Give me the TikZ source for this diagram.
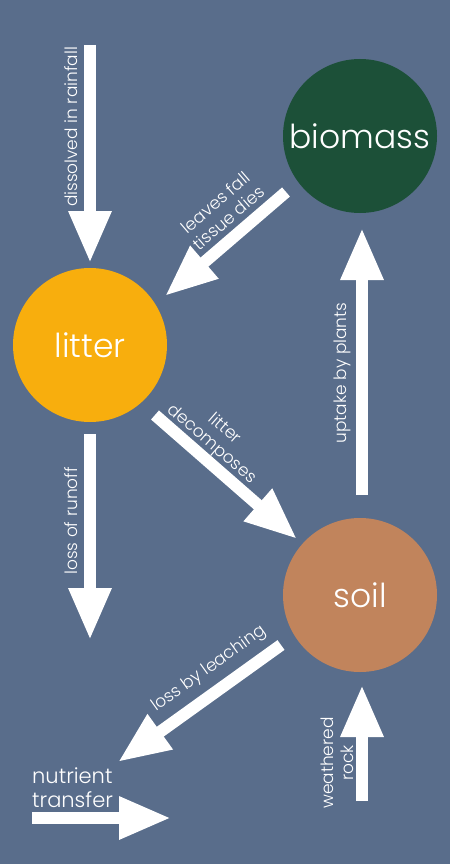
\documentclass[tikz,border=0pt]{standalone}
\usepackage{fontspec}
\setmainfont{Poppins Light}
\usetikzlibrary{arrows.meta}
\definecolor{bg}{HTML}{596D8B}
\definecolor{biomasscol}{HTML}{1C5038}
\definecolor{littercol}{HTML}{F8AE0D}
\definecolor{soilcol}{HTML}{C1845C}
\begin{document}
\begin{tikzpicture}[x=1pt,y=-1pt,
  pool/.style={circle,minimum size=154pt,inner sep=0pt,text=white,font=\fontsize{33}{33}\selectfont},
  flow/.style={draw=white,line width=12pt,-{Triangle[width=40pt,length=52pt]}},
  lbl/.style={text=white,font=\fontsize{17}{20}\selectfont,inner sep=0pt,align=center}]
\fill[bg] (0,0) rectangle (450,864);
\useasboundingbox (0,0) rectangle (450,864);
% pools
\node[pool,fill=biomasscol] (biomass) at (360,136) {biomass};
\node[pool,fill=littercol] (litter) at (90,345) {litter};
\node[pool,fill=soilcol] (soil) at (360,595) {soil};
% arrow end points
\coordinate (rainS) at (90,45);
\coordinate (rainE) at (90,263);
\coordinate (leafS) at (286,192);
\coordinate (leafE) at (165,296);
\coordinate (upS) at (362,495);
\coordinate (upE) at (362,228);
\coordinate (runS) at (90,434);
\coordinate (runE) at (90,640);
\coordinate (decS) at (155,415);
\coordinate (decE) at (297,539);
\coordinate (leachS) at (281,645);
\coordinate (leachE) at (118,762);
\coordinate (rockS) at (362,801);
\coordinate (rockE) at (362,685);
\coordinate (transS) at (32,818);
\coordinate (transE) at (171,818);
% arrows
\draw[flow] (rainS) -- (rainE);
\draw[flow] (leafS) -- (leafE);
\draw[flow] (upS) -- (upE);
\draw[flow] (runS) -- (runE);
\draw[flow] (decS) -- (decE);
\draw[flow] (leachS) -- (leachE);
\draw[flow] (rockS) -- (rockE);
\draw[flow] (transS) -- (transE);
% labels
\node[lbl,rotate=90] (rainL) at (71,127) {dissolved in rainfall};
\node[lbl,rotate=40.7] (leafL) at (222,210) {leaves fall\\tissue dies};
\node[lbl,rotate=90] (upL) at (342,373) {uptake by plants};
\node[lbl,rotate=-41] (decL) at (218,437) {litter\\decomposes};
\node[lbl,rotate=90] (runL) at (71,521) {loss of runoff};
\node[lbl,rotate=35.7] (leachL) at (209,669) {loss by leaching};
\node[lbl,rotate=90] (rockL) at (337,763) {weathered\\rock};
\node[lbl,align=left,anchor=north west,font=\fontsize{21}{24}\selectfont] (transL) at (32,767) {nutrient\\transfer};
\end{tikzpicture}
\end{document}
